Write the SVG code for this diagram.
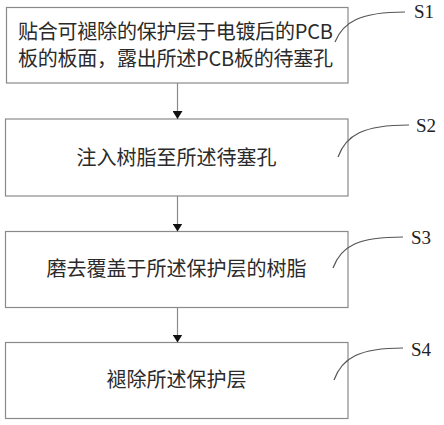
<svg xmlns="http://www.w3.org/2000/svg" width="444" height="425" viewBox="0 0 444 425">
<defs>
<marker id="ah" markerWidth="8" markerHeight="10" refX="8" refY="5" orient="auto" markerUnits="userSpaceOnUse">
<path d="M0,0 L8,5 L0,10 Z" fill="#111"/>
</marker>
<style>
.box{fill:#fff;stroke:#8a8a8a;stroke-width:1.2}
.t{font-family:"Noto Sans CJK SC","Noto Sans CJK JP",sans-serif;font-size:20px;fill:#2a2a2a}
.lab{font-family:"Liberation Serif",serif;font-size:19px;fill:#222}
.cv{fill:none;stroke:#555;stroke-width:1.2}
.ln{fill:none;stroke:#8a8a8a;stroke-width:1.2}
</style>
</defs>
<rect width="444" height="425" fill="#fff"/>
<g id="S1">
<rect class="box" x="6.5" y="7.5" width="341.5" height="75.5"/>
<text class="t" font-size="18"><tspan x="18" y="39" textLength="315" lengthAdjust="spacing">贴合可褪除的保护层于电镀后的PCB</tspan><tspan x="18" y="66" textLength="315" lengthAdjust="spacing">板的板面，露出所述PCB板的待塞孔</tspan></text>
</g>
<g id="S2">
<rect class="box" x="5.5" y="119" width="342.5" height="77"/>
<text class="t" x="176.5" y="165" text-anchor="middle">注入树脂至所述待塞孔</text>
</g>
<g id="S3">
<rect class="box" x="5.5" y="231.5" width="342.5" height="76"/>
<text class="t" x="176.5" y="276" text-anchor="middle">磨去覆盖于所述保护层的树脂</text>
</g>
<g id="S4">
<rect class="box" x="5.5" y="342.5" width="342.5" height="76"/>
<text class="t" x="176.5" y="387" text-anchor="middle">褪除所述保护层</text>
</g>
<g id="connectors">
<line class="ln" x1="177.5" y1="83" x2="177.5" y2="119" marker-end="url(#ah)"/>
<line class="ln" x1="177.5" y1="196" x2="177.5" y2="231.5" marker-end="url(#ah)"/>
<line class="ln" x1="177.5" y1="307.5" x2="177.5" y2="342.5" marker-end="url(#ah)"/>
</g>
<g id="labels">
<path class="cv" d="M335,42 C343,22 360,12 405,12"/>
<text class="lab" x="414" y="18">S1</text>
<path class="cv" d="M338,157 C346,135 363,125 409,125"/>
<text class="lab" x="416" y="132">S2</text>
<path class="cv" d="M333,268 C341,246 358,237 403,237"/>
<text class="lab" x="411" y="244">S3</text>
<path class="cv" d="M334,380 C342,358 359,348 403,348"/>
<text class="lab" x="411" y="356">S4</text>
</g>
</svg>
